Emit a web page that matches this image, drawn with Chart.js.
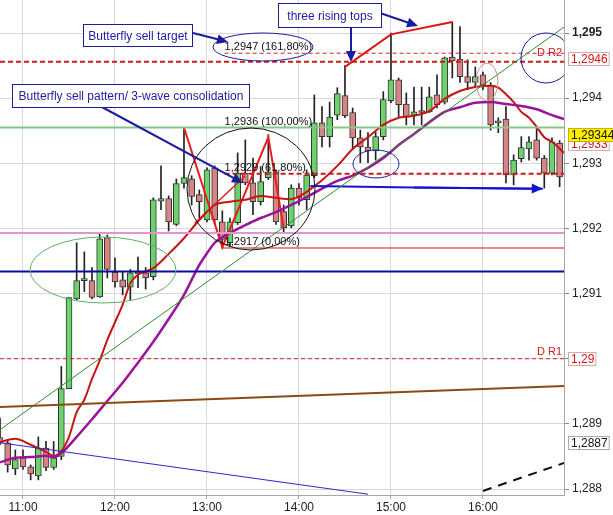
<!DOCTYPE html>
<html>
<head>
<meta charset="utf-8">
<script src="https://cdn.jsdelivr.net/npm/chart.js@4.4.0/dist/chart.umd.min.js"></script>
<style>
  html, body { margin: 0; padding: 0; background: #fff; }
</style>
</head>
<body>
<canvas id="chart" width="613" height="515"></canvas>
<script>
// 5 minute candles, slot 0 = 11:00 (first candle 10:45)
const firstSlot = -3;
const opens  = [1.28879,1.28871,1.28831,1.28848,1.28834,1.28820,1.28863,1.28833,1.28850,1.28954,
                1.29092,1.29120,1.29120,1.29095,1.29186,1.29133,1.29121,1.29110,1.29130,1.29132,
                1.29126,1.29242,1.29246,1.29206,1.29269,1.29276,1.29252,1.29213,1.29293,1.29210,
                1.29178,1.29209,1.29285,1.29270,1.29241,1.29278,1.29287,1.29226,1.29204,1.29262,
                1.29244,1.29281,1.29362,1.29341,1.29374,1.29404,1.29378,1.29339,1.29325,1.29319,
                1.29341,1.29396,1.29428,1.29391,1.29374,1.29381,1.29379,1.29405,1.29394,1.29463,
                1.29460,1.29433,1.29424,1.29436,1.29420,1.29362,1.29368,1.29282,1.29307,1.29322,
                1.29336,1.29308,1.29285,1.29331];
const highs  = [1.28909,1.28876,1.28860,1.28860,1.28837,1.28880,1.28873,1.28873,1.28988,1.29094,
                1.29178,1.29164,1.29140,1.29193,1.29190,1.29155,1.29133,1.29137,1.29156,1.29140,
                1.29247,1.29296,1.29250,1.29276,1.29355,1.29281,1.29259,1.29293,1.29296,1.29227,
                1.29216,1.29316,1.29336,1.29308,1.29295,1.29344,1.29290,1.29236,1.29267,1.29269,
                1.29290,1.29405,1.29387,1.29394,1.29416,1.29450,1.29385,1.29351,1.29347,1.29348,
                1.29410,1.29500,1.29431,1.29408,1.29417,1.29417,1.29417,1.29436,1.29463,1.29517,
                1.29510,1.29459,1.29448,1.29440,1.29424,1.29370,1.29387,1.29313,1.29341,1.29341,
                1.29355,1.29312,1.29339,1.29335];
const lows   = [1.28868,1.28826,1.28822,1.28830,1.28814,1.28814,1.28828,1.28830,1.28845,1.28954,
                1.29090,1.29103,1.29092,1.29094,1.29124,1.29110,1.29098,1.29090,1.29109,1.29107,
                1.29121,1.29229,1.29196,1.29204,1.29262,1.29236,1.29216,1.29210,1.29207,1.29170,
                1.29172,1.29206,1.29267,1.29221,1.29236,1.29275,1.29206,1.29195,1.29201,1.29236,
                1.29229,1.29278,1.29325,1.29325,1.29367,1.29370,1.29321,1.29301,1.29301,1.29305,
                1.29336,1.29393,1.29371,1.29359,1.29359,1.29359,1.29378,1.29385,1.29391,1.29431,
                1.29424,1.29413,1.29416,1.29413,1.29351,1.29347,1.29270,1.29267,1.29302,1.29305,
                1.29305,1.29262,1.29282,1.29264];
const closes = [1.28871,1.28837,1.28845,1.28834,1.28823,1.28863,1.28833,1.28848,1.28954,1.29094,
                1.29120,1.29121,1.29094,1.29184,1.29137,1.29118,1.29110,1.29132,1.29132,1.29124,
                1.29244,1.29246,1.29210,1.29269,1.29278,1.29249,1.29241,1.29290,1.29213,1.29183,
                1.29210,1.29285,1.29270,1.29241,1.29272,1.29287,1.29210,1.29201,1.29262,1.29247,
                1.29282,1.29362,1.29341,1.29371,1.29407,1.29373,1.29339,1.29325,1.29319,1.29341,
                1.29398,1.29428,1.29390,1.29371,1.29379,1.29378,1.29402,1.29390,1.29462,1.29457,
                1.29433,1.29424,1.29433,1.29420,1.29359,1.29365,1.29282,1.29305,1.29324,1.29333,
                1.29308,1.29285,1.29333,1.29279];

// moving averages (slot, price)
const redMaSlots = [-3,-1,1,3,4,5,6,7,8,9,10,11,12,13,14,15,17,19,21,23,25,27,29,31,33,35,37,38,39,41,
                    43,45,47,49,51,53,55,57,59,61,62,63,64,65,66,67,68,69,70.57];
const redMa = [1.28872,1.28877,1.28868,1.28857,1.28851,1.28858,1.28880,1.28918,1.28937,1.28969,
               1.28997,1.29029,1.29056,1.29083,1.29116,1.29129,1.29139,1.29161,1.29185,1.29213,
               1.29236,1.29241,1.29244,1.29250,1.29247,1.29245,1.29256,1.29265,1.29274,1.29296,
               1.29322,1.29340,1.29359,1.29370,1.29373,1.29380,1.29399,1.29411,1.29417,1.29419,
               1.29416,1.29406,1.29394,1.29379,1.29370,1.29356,1.29340,1.29333,1.29316];
const purpleMaSlots = [-3,-1,1,3,4,5,7,9,11,13,15,17,19,21,23,24,25,27,29,31,
                       33,35,37,39,41,43,45,47,49,51,53,55,57,59,61,63,65,67,69,70.57];
const purpleMa = [1.28841,1.28848,1.28849,1.28851,1.28849,1.28855,1.28880,1.28907,1.28935,1.28963,
                  1.28994,1.29026,1.29061,1.29098,1.29144,1.29162,1.29178,1.29193,1.29205,1.29216,
                  1.29225,1.29236,1.29248,1.29261,1.29273,1.29281,1.29293,1.29308,1.29328,1.29345,
                  1.29363,1.29379,1.29386,1.29393,1.29394,1.29391,1.29388,1.29383,1.29374,1.29368];

// drawn lines (slot, price)
const greenTrend = [[-3, 1.28891], [70.57, 1.29509]];
const blueTrend = [[-3, 1.28871], [45, 1.28792]];
const brownTrend = [[-3, 1.28926], [70.57, 1.28958]];
const blackDashTrend = [[60, 1.28797], [70.57, 1.28840]];
const risingTops = [[42, 1.29448], [48, 1.29498], [56, 1.29517]];
const butterflyLegs = [[21, 1.29355], [26, 1.29171], [32, 1.29340], [34, 1.29201]];
const butterflyCross = [[22.4, 1.29208], [29, 1.29281]];
const supportArrow = [[37.5, 1.29265], [51, 1.29263], [67.8, 1.29261]];

// horizontal levels
const fibStart = 26.3;
const fibPrices = [1.29469, 1.29355, 1.29284, 1.29170];
const fibLabels = ["1,2947 (161,80%)", "1,2936 (100,00%)", "1,2929 (61,80%)", "1,2917 (0,00%)"];
const dR2 = 1.29456;
const dR1 = 1.29000;
const pinkLevel = 1.29193;
const blueLevel = 1.29134;

// boxed price markers on the axis
const markerPrices = [1.2946, 1.2933, 1.29344, 1.29, 1.2887];
const markerLabels = ["1,2946", "1,2933", "1,29344", "1,29", "1,2887"];

const tickSlots = [0, 12, 24, 36, 48, 60];
const tickLabels = ["11:00", "12:00", "13:00", "14:00", "15:00", "16:00"];
const priceTicks = [1.288, 1.289, 1.290, 1.291, 1.292, 1.293, 1.294, 1.295];

const FONT = '"Liberation Sans", Arial, sans-serif';
const NAVY = "#1c1ca0";
const pts = arr => arr.map(([x, y]) => ({ x, y }));

function lineDs(data, color, width, dash) {
    return {
        type: "line", data: data, borderColor: color, borderWidth: width,
        borderDash: dash || [], pointRadius: 0, tension: 0, clip: 0, order: 0
    };
}

const wickData = lows.map((l, i) => ({ x: i + firstSlot, y: [l, highs[i]] }));
const bodyData = opens.map((o, i) => ({ x: i + firstSlot, y: [o, closes[i]] }));
const bodyColors = opens.map((o, i) => closes[i] >= o ? "#6cd36c" : "#d98484");

const datasets = [
    { type: "bar", data: wickData, backgroundColor: "#222", barThickness: 1, grouped: false, order: 2, clip: 0 },
    { type: "bar", data: bodyData, backgroundColor: bodyColors, borderColor: "#333", borderWidth: 1,
      borderSkipped: false, barThickness: 6, minBarLength: 2, grouped: false, order: 1, clip: 0 },
    lineDs(pts(brownTrend), "#8a4b12", 2),
    lineDs(pts(greenTrend), "#2f8f2f", 1),
    lineDs(pts(blueTrend), "#2a2ac8", 1),
    lineDs(pts(blackDashTrend), "#111", 2, [9, 7]),
    lineDs([{ x: -3, y: dR1 }, { x: 70.57, y: dR1 }], "#d62020", 1, [4, 3]),
    lineDs([{ x: -3, y: pinkLevel }, { x: 70.57, y: pinkLevel }], "#e394d2", 2),
    lineDs([{ x: -3, y: blueLevel }, { x: 70.57, y: blueLevel }], "#0a0aa0", 2),
    lineDs([{ x: -3, y: dR2 }, { x: 70.57, y: dR2 }], "#d01818", 2, [5, 3]),
    lineDs([{ x: fibStart, y: fibPrices[0] }, { x: 70.57, y: fibPrices[0] }], "#d62020", 1, [4, 3]),
    lineDs([{ x: -3, y: fibPrices[1] }, { x: 70.57, y: fibPrices[1] }], "#86c686", 2),
    lineDs([{ x: fibStart, y: fibPrices[2] }, { x: 70.57, y: fibPrices[2] }], "#d01818", 2, [5, 3]),
    lineDs([{ x: 26, y: fibPrices[3] }, { x: 70.57, y: fibPrices[3] }], "#d01818", 1),
    lineDs(pts(supportArrow), "#1414d0", 2),
    Object.assign(lineDs(purpleMaSlots.map((s, i) => ({ x: s, y: purpleMa[i] })), "#9a139a", 2.5),
                  { tension: 0.4, cubicInterpolationMode: "monotone" }),
    Object.assign(lineDs(redMaSlots.map((s, i) => ({ x: s, y: redMa[i] })), "#c81414", 2),
                  { tension: 0.4, cubicInterpolationMode: "monotone" }),
    lineDs(pts(butterflyLegs), "#ee1a1a", 2),
    lineDs(pts(butterflyCross), "#ee1a1a", 1.5),
    lineDs(pts(risingTops), "#e01414", 2)
];

function arrow(ctx, x0, y0, x1, y1, color, w) {
    const a = Math.atan2(y1 - y0, x1 - x0), L = 11, W = 5;
    ctx.strokeStyle = color; ctx.lineWidth = w;
    ctx.beginPath(); ctx.moveTo(x0, y0);
    ctx.lineTo(x1 - Math.cos(a) * L * 0.7, y1 - Math.sin(a) * L * 0.7); ctx.stroke();
    ctx.fillStyle = color; ctx.beginPath(); ctx.moveTo(x1, y1);
    ctx.lineTo(x1 - L * Math.cos(a) + W * Math.sin(a), y1 - L * Math.sin(a) - W * Math.cos(a));
    ctx.lineTo(x1 - L * Math.cos(a) - W * Math.sin(a), y1 - L * Math.sin(a) + W * Math.cos(a));
    ctx.closePath(); ctx.fill();
}

function textBox(ctx, text, x0, y0, x1, y1) {
    ctx.fillStyle = "#fff"; ctx.fillRect(x0, y0, x1 - x0, y1 - y0);
    ctx.strokeStyle = NAVY; ctx.lineWidth = 1;
    ctx.strokeRect(x0 + 0.5, y0 + 0.5, x1 - x0 - 1, y1 - y0 - 1);
    ctx.fillStyle = NAVY; ctx.font = "12px " + FONT;
    ctx.textAlign = "center"; ctx.textBaseline = "middle";
    ctx.fillText(text, (x0 + x1) / 2, (y0 + y1) / 2 + 1);
}

function ellipse(ctx, cx, cy, rx, ry, color) {
    ctx.strokeStyle = color; ctx.lineWidth = 1;
    ctx.beginPath(); ctx.ellipse(cx, cy, rx, ry, 0, 0, Math.PI * 2); ctx.stroke();
}

// annotations on top of the chart
const annotations = {
    id: "annotations",
    afterDraw(chart) {
        const { ctx, chartArea: area, scales: { x, y } } = chart;
        ctx.save();
        ctx.beginPath(); ctx.rect(area.left, area.top, area.right - area.left, area.bottom - area.top); ctx.clip();

        // fib labels
        ctx.font = "11px " + FONT; ctx.fillStyle = "#111";
        ctx.textAlign = "left"; ctx.textBaseline = "middle";
        fibLabels.forEach((t, i) => ctx.fillText(t, x.getPixelForValue(fibStart), y.getPixelForValue(fibPrices[i]) - 6));

        // pivot names
        ctx.fillStyle = "#d01818"; ctx.textAlign = "right";
        ctx.fillText("D R2", area.right - 2, y.getPixelForValue(fibPrices[0]));
        ctx.fillText("D R1", area.right - 2, y.getPixelForValue(dR1) - 7);

        // ellipses
        ellipse(ctx, 263, 47, 50, 14, NAVY);
        ellipse(ctx, 251, 189, 64, 61, "#111");
        ellipse(ctx, 103, 270, 73, 33, "#5fb05f");
        ellipse(ctx, 376, 164, 23, 14, NAVY);
        ellipse(ctx, 487, 82, 11, 19, "#d09090");
        ellipse(ctx, 546, 58, 25, 25, NAVY);

        // arrowhead of the support line
        const n = supportArrow.length;
        const ax0 = x.getPixelForValue(supportArrow[n - 2][0]), ay0 = y.getPixelForValue(supportArrow[n - 2][1]);
        const ax1 = x.getPixelForValue(supportArrow[n - 1][0]), ay1 = y.getPixelForValue(supportArrow[n - 1][1]);
        arrow(ctx, ax0, ay0, ax1, ay1, "#1414d0", 2);

        // text boxes and their arrows
        arrow(ctx, 351, 28, 351, 62, NAVY, 2);
        arrow(ctx, 380, 13, 418, 26, NAVY, 2);
        arrow(ctx, 193, 33, 228, 42, NAVY, 2);
        arrow(ctx, 100, 106, 243, 183, NAVY, 2);
        textBox(ctx, "three rising tops", 278, 3, 382, 28);
        textBox(ctx, "Butterfly sell target", 83, 24, 193, 47);
        textBox(ctx, "Butterfly sell pattern/ 3-wave consolidation", 12, 84, 250, 108);
        ctx.restore();

        // boxed price markers on the axis
        ctx.save();
        ctx.font = "12px " + FONT; ctx.textAlign = "left"; ctx.textBaseline = "middle";
        const mStyle = [
            { bg: "#fff", border: "#d7a9a9", color: "#d01818" },
            { bg: "#fff", border: "#d7a9a9", color: "#d01818" },
            { bg: "#ffee00", border: "#c8b400", color: "#111" },
            { bg: "#fff", border: "#d7a9a9", color: "#d01818" },
            { bg: "#fff", border: "#aaa", color: "#111" }
        ];
        markerPrices.forEach((p, i) => {
            const s = mStyle[i], py = Math.round(y.getPixelForValue(p));
            const w = ctx.measureText(markerLabels[i]).width + 5;
            ctx.fillStyle = s.bg; ctx.fillRect(568, py - 7, w, 14);
            ctx.strokeStyle = s.border; ctx.lineWidth = 1;
            ctx.strokeRect(568.5, py - 6.5, w - 1, 13);
            ctx.fillStyle = s.color; ctx.fillText(markerLabels[i], 571, py + 1);
        });
        ctx.restore();
    }
};

new Chart(document.getElementById("chart"), {
    type: "bar",
    data: { datasets: datasets },
    options: {
        responsive: false,
        animation: false,
        events: [],
        layout: { padding: 0 },
        plugins: { legend: { display: false }, tooltip: { enabled: false } },
        scales: {
            x: {
                type: "linear", min: -3, max: 70.57, offset: false,
                afterBuildTicks: s => { s.ticks = tickSlots.map(v => ({ value: v })); },
                afterFit: s => { s.height = 20; s.paddingLeft = 0; s.paddingRight = 0; },
                ticks: {
                    callback: v => tickLabels[tickSlots.indexOf(v)],
                    maxRotation: 0, autoSkip: false, padding: 1,
                    color: "#222", font: { family: FONT, size: 12 }
                },
                grid: { offset: false, color: "#d8d8d8", tickLength: 4, tickColor: "#aaa" },
                border: { color: "#a8a8a8" }
            },
            y: {
                type: "linear", position: "right", min: 1.287908, max: 1.295507,
                afterBuildTicks: s => { s.ticks = priceTicks.map(v => ({ value: v })); },
                afterFit: s => { s.width = 49; s.paddingTop = 0; s.paddingBottom = 0; },
                ticks: {
                    callback: v => Math.abs(v - 1.29) < 1e-7 ? "" : v.toFixed(3).replace(".", ","),
                    autoSkip: false, padding: 3, color: "#222",
                    font: c => ({ family: FONT, size: 12,
                        weight: c.tick && Math.abs(c.tick.value - 1.295) < 1e-7 ? "bold" : "normal" })
                },
                grid: { color: "#d8d8d8", tickLength: 5, tickColor: "#888" },
                border: { color: "#a8a8a8" }
            }
        }
    },
    plugins: [annotations]
});
</script>
</body>
</html>
